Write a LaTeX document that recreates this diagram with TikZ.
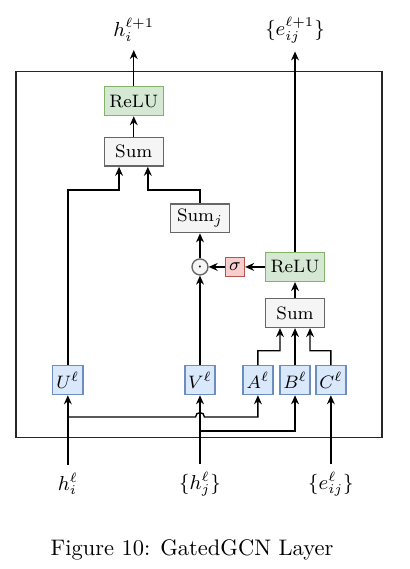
\documentclass[tikz,border=0pt]{standalone}
\usepackage{amsmath}
\usetikzlibrary{arrows.meta,positioning}
\definecolor{reluF}{HTML}{D5E8D4}
\definecolor{reluD}{HTML}{82B366}
\definecolor{sumF}{HTML}{F5F5F5}
\definecolor{sumD}{HTML}{666666}
\definecolor{wF}{HTML}{DAE8FC}
\definecolor{wD}{HTML}{6C8EBF}
\definecolor{gF}{HTML}{F8CECC}
\definecolor{gD}{HTML}{B85450}
\begin{document}
\begin{tikzpicture}[every node/.style={font=\footnotesize},
       box/.style={draw,minimum height=0.45cm,inner sep=1pt,line width=0.6pt},
       relubox/.style={box,fill=reluF,draw=reluD,minimum width=0.92cm},
       sumbox/.style={box,fill=sumF,draw=sumD,minimum width=0.92cm},
       weight/.style={box,fill=wF,draw=wD,minimum width=0.47cm},
       gatebox/.style={box,fill=gF,draw=gD,minimum size=0.3cm,inner sep=0pt},
       lbl/.style={font=\small},
       >={Stealth[length=4pt,width=3.5pt]},semithick]
    \useasboundingbox (0,0) rectangle (6.406,8.891);
    % outer frame
    \draw[black!85] (0.25,2.05) rectangle (5.97,7.77);
    % node update
    \node[relubox] (relu) at (2.09,7.31) {ReLU};
    \node[sumbox] (sum) at (2.09,6.52) {Sum};
    \node[sumbox] (sumj) at (3.125,5.48) {Sum$_j$};
    \node[circle,draw=sumD,fill=sumF,minimum size=0.25cm,inner sep=0pt] (odot) at (3.125,4.72) {$\cdot$};
    \node[gatebox] (sigma) at (3.67,4.72) {$\sigma$};
    % edge update
    \node[relubox] (erelu) at (4.61,4.72) {ReLU};
    \node[sumbox] (esum) at (4.61,4.0) {Sum};
    % weights
    \node[weight] (U) at (1.06,2.95) {$U^\ell$};
    \node[weight] (V) at (3.125,2.95) {$V^\ell$};
    \node[weight] (A) at (4.03,2.95) {$A^\ell$};
    \node[weight] (B) at (4.61,2.95) {$B^\ell$};
    \node[weight] (C) at (5.17,2.95) {$C^\ell$};
    % inputs and outputs
    \node[lbl] (hout) at (2.09,8.42) {$h_i^{\ell+1}$};
    \node[lbl] (eout) at (4.61,8.42) {$\{e_{ij}^{\ell+1}\}$};
    \node[lbl] (hin) at (1.06,1.33) {$h_i^\ell$};
    \node[lbl] (hjin) at (3.125,1.33) {$\{h_j^\ell\}$};
    \node[lbl] (ein) at (5.17,1.33) {$\{e_{ij}^\ell\}$};
    \node[font=\normalsize] (cap) at (3.0,0.30) {Figure 10: GatedGCN Layer};
    \coordinate (hop) at (3.125,2.375);
    \coordinate (hisplit) at (U |- hop);
    \coordinate (hjsplit) at (3.125,2.156);

    \draw[->] (relu) -- (hout);
    \draw[->] (sum) -- (relu);
    \draw[->] (U.north) |- (1.86,5.92) -- ([xshift=-0.23cm]sum.south);
    \draw[->] (sumj.north) |- (2.31,5.92) -- ([xshift=0.22cm]sum.south);
    \draw[->] (odot) -- (sumj);
    \draw[->] (V) -- (odot);
    \draw[->] (sigma) -- (odot);
    \draw[->] (erelu) -- (sigma);
    \draw[->] (esum) -- (erelu);
    \draw[->] (erelu) -- (eout);
    \draw[->] (A.north) |- (4.375,3.41) -- ([xshift=-0.235cm]esum.south);
    \draw[->] (B) -- (esum);
    \draw[->] (C.north) |- (4.845,3.41) -- ([xshift=0.235cm]esum.south);
    % inputs into the weights
    \draw[->] (hin) -- (U);
    \draw[->] (hjin) -- (V);
    \draw[->] (ein) -- (C);
    \draw[->] (hisplit) -- ([xshift=-0.07cm]hop) arc[start angle=180,end angle=0,radius=0.07cm] -| (A);
    \draw[->] (hjsplit) -| (B);
\end{tikzpicture}
\end{document}
